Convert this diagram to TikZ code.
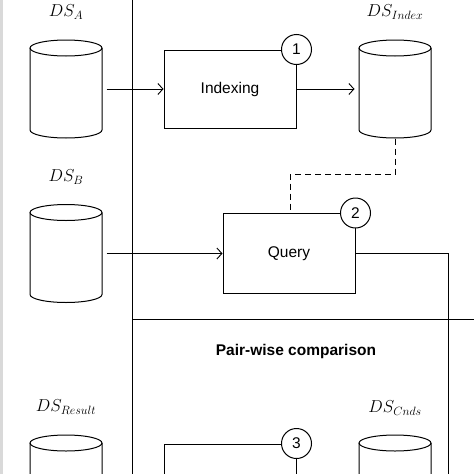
\documentclass[tikz,border=0pt]{standalone}
\usepackage{fontspec}
\setsansfont{Liberation Sans}
\usetikzlibrary{arrows.meta}
\begin{document}
\begin{tikzpicture}[x=1pt,y=1pt,line width=1pt,
  proc/.style={draw,rectangle,minimum width=132pt,inner sep=0pt,font=\sffamily\fontsize{15.5}{18}\selectfont},
  badge/.style={draw,circle,fill=white,minimum size=30pt,inner sep=0pt,font=\sffamily\fontsize{15.5}{18}\selectfont},
  cylspot/.style={minimum width=72pt,minimum height=98pt,inner sep=0pt},
  dslabel/.style={font=\fontsize{17.5}{20}\selectfont},
  flow/.style={-{Straight Barb[length=5pt,width=11pt,line width=0.9pt]}}]
\useasboundingbox (0,0) rectangle (474,-474);
\clip (0,0) rectangle (474,-474);
\fill[gray!30] (0,0) rectangle (3,-474);
% cylinder outline: cx, top y (neg), bottom y (neg)
\newcommand{\cylout}[3]{%
  \draw (#1-36,#2-8) -- (#1-36,#3+8) arc (180:360:36 and 8) -- (#1+36,#2-8);
  \draw (#1,#2-8) ellipse (36 and 8);}
\node[cylspot] (dsa) at (66,-89) {};
\node[cylspot] (dsb) at (66,-253.5) {};
\node[cylspot] (dsidx) at (395,-89) {};
\node[cylspot] (dsres) at (66,-484) {};
\node[cylspot] (dscnd) at (395,-484) {};
\cylout{66}{-40}{-138}
\cylout{66}{-204.5}{-302.5}
\cylout{395}{-40}{-138}
\cylout{66}{-435}{-533}
\cylout{395}{-435}{-533}
% labels
\node[dslabel] (la) at (66,-12) {$DS_A$};
\node[dslabel] (lb) at (66,-177) {$DS_B$};
\node[dslabel] (li) at (395,-12) {$DS_{Index}$};
\node[dslabel] (lr) at (66,-407) {$DS_{Result}$};
\node[dslabel] (lc) at (395,-408) {$DS_{Cnds}$};
% region lines
\coordinate (vtop) at (132,0);
\coordinate (vbot) at (132,-474);
\coordinate (hl) at (132,-319);
\coordinate (hr) at (474,-319);
\draw (vtop) -- (vbot);
\draw (hl) -- (hr);
% processes
\node[proc,minimum height=78pt] (idx) at (230,-89) {Indexing};
\node[proc,minimum height=80pt] (qry) at (289,-253.5) {Query};
\node[proc,minimum height=78pt] (cmp) at (230,-483) {};
\node[font=\sffamily\bfseries\fontsize{15.5}{18}\selectfont] (pw) at (296,-351) {Pair-wise comparison};
% connectors
\draw[flow] ([xshift=4pt]dsa.east) -- (idx.west);
\draw[flow] (idx.east) -- ([xshift=-4pt]dsidx.west);
\draw[flow] ([xshift=4pt]dsb.east) -- (qry.west);
\coordinate (qd) at (448,-474);
\draw (qry.east) -| (qd);
\coordinate (d1) at (395,-174);
\coordinate (d2) at (290,-174);
\draw[dash pattern=on 6pt off 4pt] (dsidx.south) -- (d1) -- (d2) -- (d2 |- qry.north);
% badges
\node[badge] (b1) at (idx.north east) {1};
\node[badge] (b2) at (qry.north east) {2};
\node[badge] (b3) at (cmp.north east) {3};
\end{tikzpicture}
\end{document}
